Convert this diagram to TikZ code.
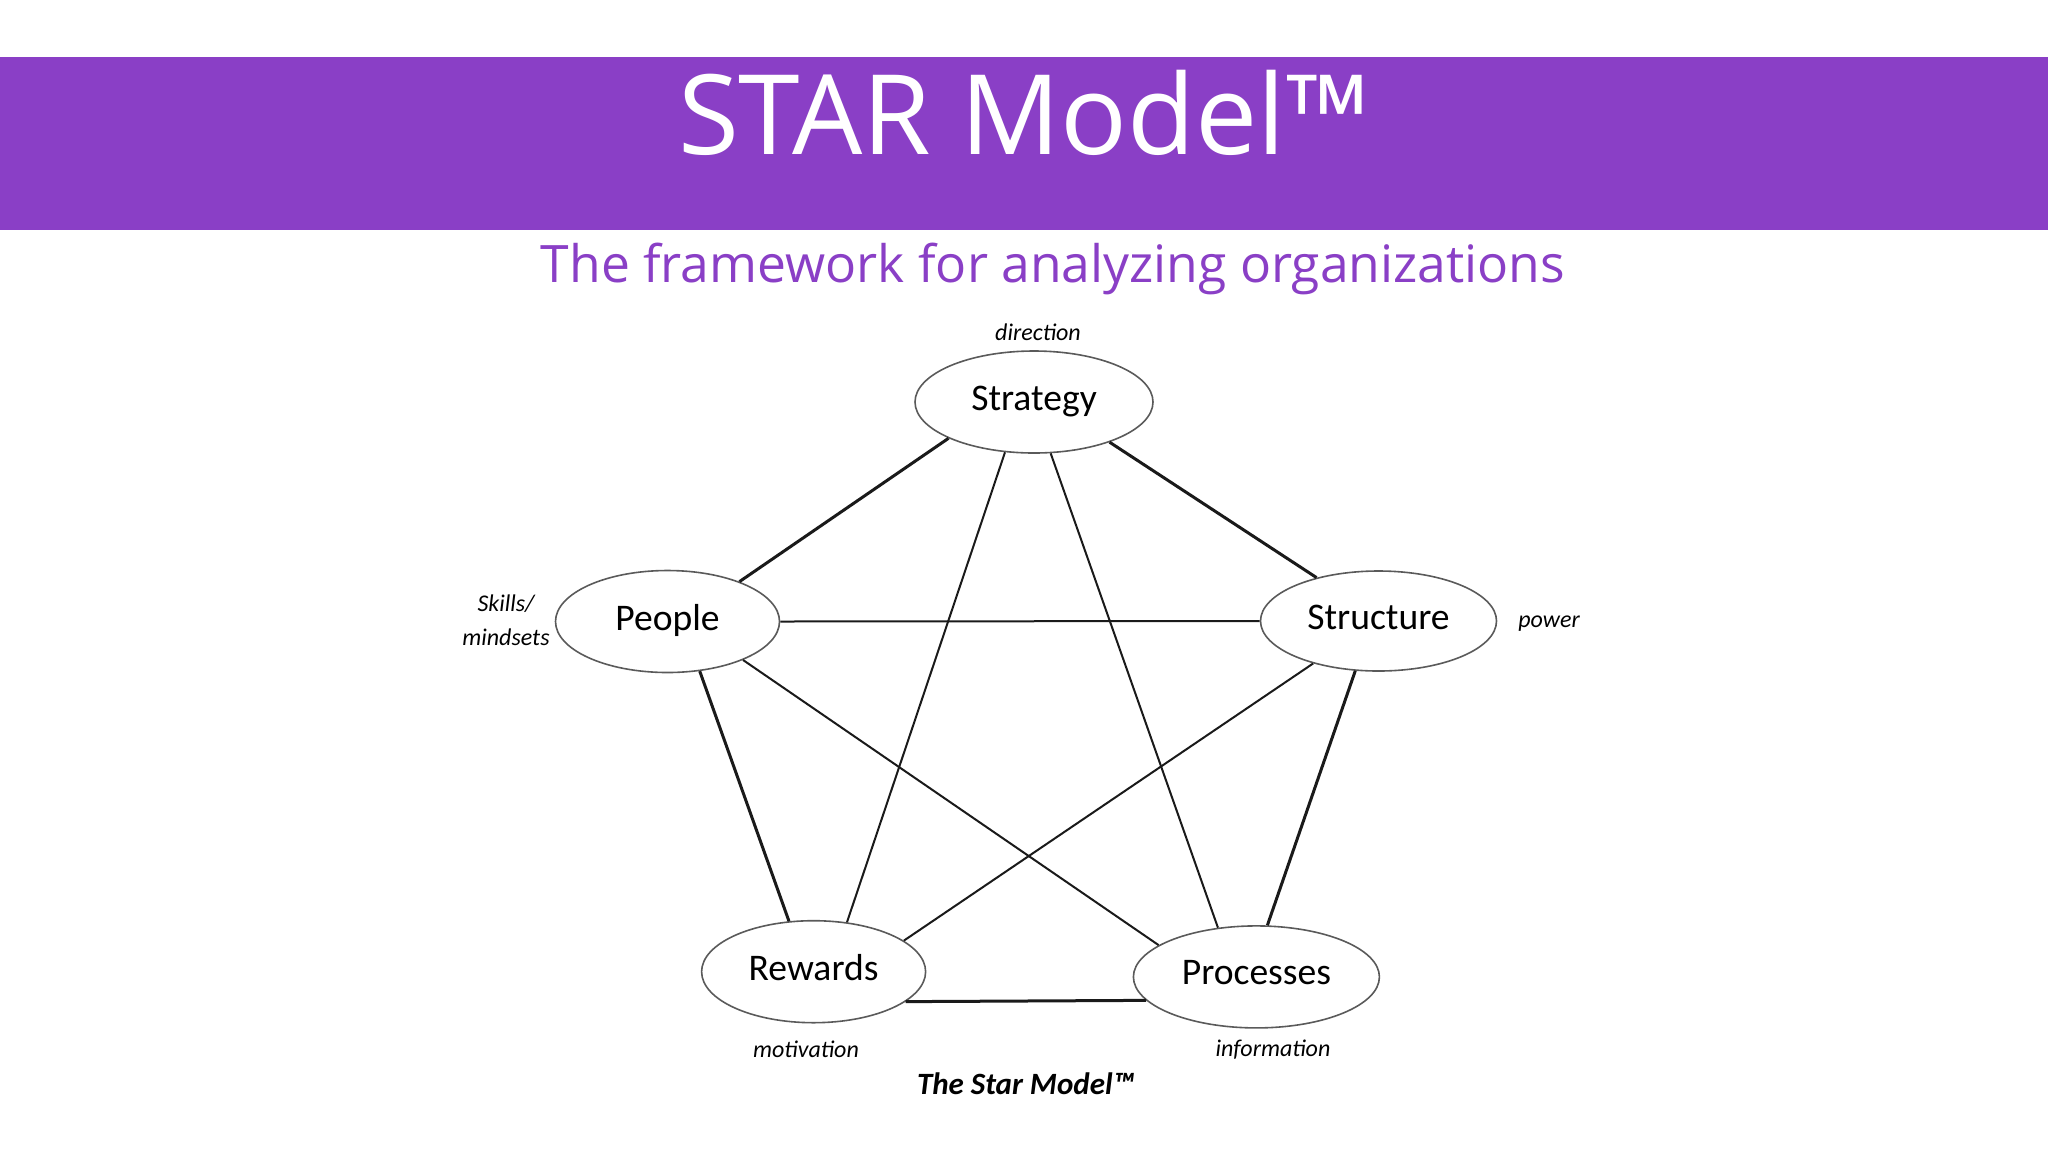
\documentclass[tikz,border=0pt]{standalone}
\usepackage{fontspec}
\setmainfont{Carlito}
\newfontfamily\slidefont{Open Sans}
\usetikzlibrary{shapes.geometric}
\definecolor{SlidePurple}{HTML}{8A3FC6}
\definecolor{StarInk}{HTML}{1A1A1A}
\definecolor{StarRim}{HTML}{5A5A5A}

\begin{document}
\begin{tikzpicture}[x=0.5pt, y=-0.5pt,
    element/.style={ellipse, draw=StarRim, line width=0.8pt, inner sep=0pt, text depth=4pt,
      minimum height=51pt, font=\fontsize{18.8}{22}\selectfont},
    aspect/.style={font=\fontsize{12}{15}\selectfont\itshape, align=center, inner sep=0pt},
    outer/.style={line width=1.5pt, color=StarInk},
    inner/.style={line width=1pt, color=StarInk}
  ]
    \useasboundingbox (0,0) rectangle (2048,1152);
    % banner
    \fill[SlidePurple] (0,57) rectangle (2048,230);
    \node[anchor=base, text=white, font=\slidefont\fontsize{55.5}{60}\selectfont] (title) at (1025,154) {STAR Model™};
    \node[anchor=base, text=SlidePurple, font=\slidefont\fontsize{25.8}{30}\selectfont] (subtitle) at (1053,282) {The framework for analyzing organizations};
    % the five points of the star
    \node[element, minimum width=119pt] (strategy) at (1034,402) {Strategy};
    \node[element, minimum width=112pt] (people) at (667.5,621.5) {People};
    \node[element, minimum width=118pt, minimum height=50pt] (structure) at (1378.5,621) {Structure};
    \node[element, minimum width=112pt] (rewards) at (813.6,971.7) {Rewards};
    \node[element, minimum width=123pt] (processes) at (1256.4,976.9) {Processes};
    % what each point stands for
    \node[aspect] (direction) at (1038,332) {direction};
    \node[aspect] (skills) at (506,620) {Skills/\\[2pt]mindsets};
    \node[aspect] (power) at (1549,624) {power};
    \node[aspect] (motivation) at (806,1049) {motivation};
    \node[aspect] (information) at (1273,1050) {information};
    \node[font=\fontsize{15.5}{18}\selectfont\bfseries\itshape] (caption) at (1026,1084) {The Star Model™};
    % outer ring
    \draw[outer] (strategy.203.7) -- (people.29);
    \draw[outer] (strategy.332.7) -- (structure.145.9);
    \draw[outer] (people.303.7) -- (rewards.116.6);
    \draw[outer] (structure.245.6) -- (processes.78.4);
    \draw[outer] (rewards.342.3) -- (processes.192.6);
    % inner star
    \draw[inner] (strategy.240.6) -- (rewards.56.7);
    \draw[inner] (strategy.288.4) -- (processes.128.3);
    \draw[inner] (people.0.7) -- (structure.180);
    \draw[inner] (people.333) -- (processes.162.3);
    \draw[inner] (structure.213.3) -- (rewards.19.2);
  \end{tikzpicture}
\end{document}
